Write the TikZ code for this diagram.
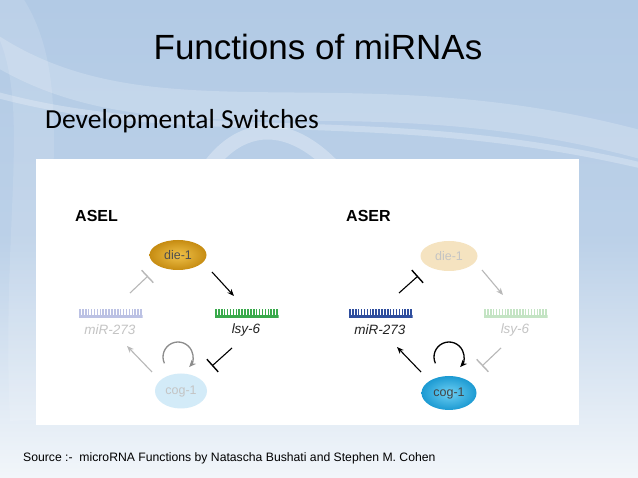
\documentclass[tikz,border=0pt]{standalone}
\usepackage{fontspec}
\setmainfont{Liberation Sans}
\newfontfamily\carlito{Carlito}
\usetikzlibrary{shapes.geometric,arrows.meta,calc}
\definecolor{bgtop}{HTML}{B2CAE5}
\definecolor{bgbot}{HTML}{F2F6FA}
\definecolor{goldin}{HTML}{F0C24A}
\definecolor{goldout}{HTML}{C68C12}
\definecolor{goldfade}{HTML}{F5E3C0}
\definecolor{cogin}{HTML}{6ED0F4}
\definecolor{cogout}{HTML}{1C9AD2}
\definecolor{cogfade}{HTML}{D3EBF8}
\definecolor{lsygreen}{HTML}{3AAA4C}
\definecolor{lsyfade}{HTML}{C4E4C4}
\definecolor{mirblue}{HTML}{2F4E9E}
\definecolor{mirfade}{HTML}{BCC2E4}
\definecolor{linkfade}{HTML}{B8B8B8}
\definecolor{loopgray}{HTML}{8C8C8C}
\definecolor{textfade}{HTML}{C4C4C4}
\definecolor{textdark}{HTML}{222222}
\tikzset{
  geneball/.style={ellipse, inner sep=0pt, font=\fontsize{12.5}{13}\selectfont},
  comb/.style={minimum width=64pt, minimum height=9pt, inner sep=0pt,
    path picture={
      \fill[#1] (path picture bounding box.south west) rectangle ([yshift=3pt]path picture bounding box.south east);
      \foreach \i in {0,...,21}
        \draw[#1, line width=1.5pt] ($(path picture bounding box.south west)!{(\i+0.5)/22}!(path picture bounding box.south east)$) -- ++(0,-8.5);
    }},
  genelabel/.style={font=\itshape\fontsize{13.5}{14}\selectfont, inner sep=0pt},
  cellname/.style={anchor=base west, font=\bfseries\fontsize{16}{18}\selectfont, inner sep=0pt},
  act/.style={line width=1.1pt, -{Stealth[length=7pt,width=5.5pt]}},
  inh/.style={line width=1.1pt, -{Bar[width=17pt,line width=1.4pt]}},
  loopline/.style={line width=1.3pt, -{Stealth[length=7pt,width=6pt]}},
}
\begin{document}
\begin{tikzpicture}[x=1pt,y=-1pt]
\useasboundingbox (0,0) rectangle (638,478);
% background
\shade[top color=bgtop, bottom color=bgbot, middle color=bgtop!85!bgbot] (0,0) rectangle (638,478);
\draw[white, opacity=0.2, line width=28pt] (-20,40) .. controls (150,160) and (350,60) .. (660,150);
\draw[white, opacity=0.25, line width=6pt] (-20,90) .. controls (180,150) and (380,100) .. (660,170);
\draw[white, opacity=0.3, line width=14pt] (190,200) .. controls (230,110) and (300,110) .. (360,200);
\draw[white, opacity=0.12, line width=40pt] (0,0) .. controls (60,80) and (20,200) .. (30,420);
% titles
\node[anchor=base, inner sep=0pt, font=\fontsize{35}{40}\selectfont] (title) at (318,60) {Functions of miRNAs};
\node[anchor=base west, inner sep=0pt, font=\carlito\fontsize{27.5}{30}\selectfont] (subtitle) at (45,129) {Developmental Switches};
% panel
\node[fill=white, inner sep=0pt, minimum width=543pt, minimum height=266pt, anchor=north west] (panel) at (36,159) {};
% source
\node[anchor=base west, inner sep=0pt, font=\fontsize{12.2}{14}\selectfont] (source) at (23,462) {Source :-\ \ microRNA Functions by Natascha Bushati and Stephen M. Cohen};

% ---------------- ASEL ----------------
\node[cellname] (asel) at (75,222) {ASEL};
\node[geneball, minimum width=57pt, minimum height=30pt, inner color=goldin, outer color=goldout, text=textdark!80] (Ldie) at (178,255) {die-1};
\node[geneball, minimum width=52pt, minimum height=35pt, fill=cogfade, text=textfade] (Lcog) at (181,391) {cog-1};
\node[comb=lsygreen] (Llsy) at (246.5,313.5) {};
\node[comb=mirfade] (Lmir) at (110.5,313.5) {};
\node[genelabel, text=textdark] (Llsyt) at (246,330) {lsy-6};
\node[genelabel, text=textfade] (Lmirt) at (110,330) {miR-273};
\coordinate (La1) at (212,272); \coordinate (La2) at (234,296);
\draw[act] (La1) -- (La2);
\coordinate (Lb1) at (130,293); \coordinate (Lb2) at (148,276);
\draw[inh, linkfade] (Lb1) -- (Lb2);
\coordinate (Lc1) at (152,372); \coordinate (Lc2) at (127,346);
\draw[act, linkfade] (Lc1) -- (Lc2);
\coordinate (Ld1) at (232,348); \coordinate (Ld2) at (212,366);
\draw[inh] (Ld1) -- (Ld2);
\coordinate (Lloop) at (178,357);
\draw[loopline, loopgray] ($(Lloop)+(155:15)$) arc[start angle=155, end angle=402, radius=15];

% ---------------- ASER ----------------
\begin{scope}[shift={(270,1)}]
\node[cellname] (aser) at (76,221) {ASER};
\node[geneball, minimum width=57pt, minimum height=30pt, fill=goldfade, text=textfade] (Rdie) at (179,255) {die-1};
\node[geneball, minimum width=55pt, minimum height=34pt, inner color=cogin, outer color=cogout, text=textdark!85] (Rcog) at (179,392) {cog-1};
\node[comb=lsyfade] (Rlsy) at (245.5,312.5) {};
\node[comb=mirblue] (Rmir) at (110.5,312.5) {};
\node[genelabel, text=textfade] (Rlsyt) at (245,329) {lsy-6};
\node[genelabel, text=textdark] (Rmirt) at (110,329) {miR-273};
\coordinate (Ra1) at (212,269); \coordinate (Ra2) at (233,294);
\draw[act, linkfade] (Ra1) -- (Ra2);
\coordinate (Rb1) at (129,292); \coordinate (Rb2) at (148,275);
\draw[inh] (Rb1) -- (Rb2);
\coordinate (Rc1) at (151,371); \coordinate (Rc2) at (127,346);
\draw[act] (Rc1) -- (Rc2);
\coordinate (Rd1) at (231,347); \coordinate (Rd2) at (212,365);
\draw[inh, linkfade] (Rd1) -- (Rd2);
\coordinate (Rloop) at (179,356);
\draw[loopline, black] ($(Rloop)+(155:15)$) arc[start angle=155, end angle=402, radius=15];
\end{scope}
\end{tikzpicture}
\end{document}
